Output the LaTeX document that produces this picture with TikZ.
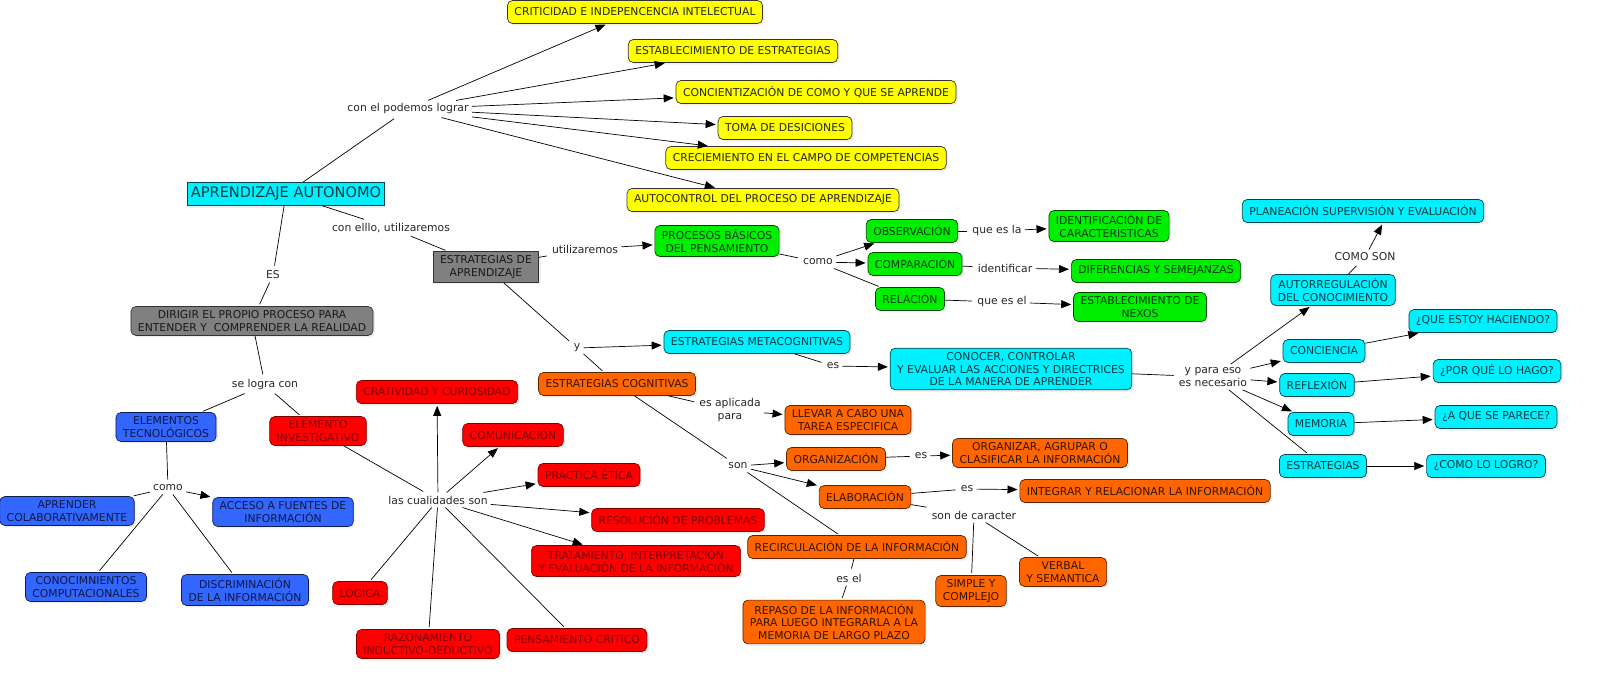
\documentclass[tikz,border=0pt]{standalone}
\usepackage{fontspec}
\setmainfont{DejaVu Sans}
\usetikzlibrary{arrows.meta,shadows}

\definecolor{amarillo}{RGB}{255,255,0}
\definecolor{cian}{RGB}{0,240,255}
\definecolor{verde}{RGB}{0,238,0}
\definecolor{naranja}{RGB}{255,102,0}
\definecolor{rojo}{RGB}{255,0,0}
\definecolor{azul}{RGB}{51,102,255}
\definecolor{gris}{RGB}{128,128,128}

\begin{document}
\begin{tikzpicture}[x=1pt,y=-1pt,line width=0.7pt,
    >={Triangle[length=10pt,width=8pt]},shorten >=2pt,
    every node/.style={font=\fontsize{10.8}{12.8}\selectfont,align=center,text=black!85},
    caja/.style={rounded corners=5pt,inner xsep=7pt,inner ysep=4pt,minimum height=23pt,
        drop shadow={shadow xshift=2pt,shadow yshift=-2pt,fill=black!12}},
    amarillo/.style={caja,draw=black!80,fill=amarillo,text=black!85},
    cian/.style={caja,draw=cian!30!black,fill=cian,text=cian!25!black},
    verde/.style={caja,draw=verde!30!black,fill=verde,text=verde!25!black},
    naranja/.style={caja,draw=naranja!35!black,fill=naranja,text=naranja!20!black},
    rojo/.style={caja,draw=rojo!50!black,fill=rojo,text=rojo!50!black},
    azul/.style={caja,draw=azul!30!black,fill=azul,text=azul!25!black},
    gris/.style={caja,draw=black!80,fill=gris,text=black!90},
    enlace/.style={inner sep=3pt}]
        \useasboundingbox (0,0) rectangle (1600,675);

        % concepto principal
        \node[cian,sharp corners,inner sep=3pt,font=\fontsize{14.6}{16}\selectfont] (auto) at (286,194) {APRENDIZAJE AUTONOMO};
        \node[enlace] (lograr) at (408,109) {con el podemos lograr};
        \node[amarillo] (crit) at (635,12) {CRITICIDAD E INDEPENCENCIA INTELECTUAL};
        \node[amarillo] (estab) at (733,51) {ESTABLECIMIENTO DE ESTRATEGIAS};
        \node[amarillo] (conc) at (816,92) {CONCIENTIZACIÓN DE COMO Y QUE SE APRENDE};
        \node[amarillo] (toma) at (785,128) {TOMA DE DESICIONES};
        \node[amarillo] (crec) at (806,158) {CRECIEMIENTO EN EL CAMPO DE COMPETENCIAS};
        \node[amarillo] (autoc) at (763,200) {AUTOCONTROL DEL PROCESO DE APRENDIZAJE};

        % estrategias de aprendizaje
        \node[enlace] (ello) at (391,228) {con elllo, utilizaremos};
        \node[gris,sharp corners] (estap) at (486,267) {ESTRATEGIAS DE\\APRENDIZAJE};
        \node[enlace] (utiliz) at (585,249) {utilizaremos};
        \node[verde] (proc) at (717,241) {PROCESOS BÁSICOS\\DEL PENSAMIENTO};
        \node[enlace] (como1) at (818,262) {como};
        \node[verde] (obs) at (912,231) {OBSERVACIÓN};
        \node[verde] (comp) at (915,264) {COMPARACIÓN};
        \node[verde] (rel) at (910,299) {RELACIÓN};
        \node[enlace] (quela) at (997,231) {que es la};
        \node[verde] (ident) at (1109,226) {IDENTIFICACIÓN DE\\CARACTERISTICAS};
        \node[enlace] (identif) at (1005,268) {identificar};
        \node[verde] (dif) at (1156,271) {DIFERENCIAS Y SEMEJANZAS};
        \node[enlace] (queel) at (1002,302) {que es el};
        \node[verde] (nexos) at (1140,307) {ESTABLECIMIENTO DE\\NEXOS};

        % metacognitivas
        \node[enlace] (y) at (577,348) {y};
        \node[cian] (meta) at (757,342) {ESTRATEGIAS METACOGNITIVAS};
        \node[enlace] (es2) at (833,366) {es};
        \node[cian] (conocer) at (1011,369) {CONOCER, CONTROLAR\\Y EVALUAR LAS ACCIONES Y DIRECTRICES\\DE LA MANERA DE APRENDER};
        \node[enlace] (paraeso) at (1213,377) {y para eso\\es necesario};
        \node[cian] (plan) at (1363,211) {PLANEACIÓN SUPERVISIÓN Y EVALUACIÓN};
        \node[enlace] (comoson) at (1365,257) {COMO SON};
        \node[cian] (autorreg) at (1333,290) {AUTORREGULACIÓN\\DEL CONOCIMIENTO};
        \node[cian] (concien) at (1324,351) {CONCIENCIA};
        \node[cian] (quehac) at (1483,321) {¿QUE ESTOY HACIENDO?};
        \node[cian] (reflex) at (1317,385) {REFLEXIÓN};
        \node[cian] (porque) at (1497,371) {¿POR QUÉ LO HAGO?};
        \node[cian] (memoria) at (1321,424) {MEMORIA};
        \node[cian] (parece) at (1496,417) {¿A QUE SE PARECE?};
        \node[cian] (estrat) at (1323,466) {ESTRATEGIAS};
        \node[cian] (logro) at (1486,466) {¿COMO LO LOGRO?};

        % cognitivas
        \node[naranja] (cogn) at (617,384) {ESTRATEGIAS COGNITIVAS};
        \node[enlace] (aplic) at (730,410) {es aplicada\\para};
        \node[naranja] (llevar) at (848,420) {LLEVAR A CABO UNA\\TAREA ESPECIFICA};
        \node[enlace] (son) at (738,466) {son};
        \node[naranja] (organiz) at (836,459) {ORGANIZACIÓN};
        \node[enlace] (es3) at (921,456) {es};
        \node[naranja] (agrupar) at (1040,453) {ORGANIZAR, AGRUPAR O\\CLASIFICAR LA INFORMACIÓN};
        \node[naranja] (elab) at (865,497) {ELABORACIÓN};
        \node[enlace] (es4) at (967,489) {es};
        \node[naranja] (integrar) at (1145,491) {INTEGRAR Y RELACIONAR LA INFORMACIÓN};
        \node[enlace] (caracter) at (974,515) {son de caracter};
        \node[naranja] (simple) at (971,591) {SIMPLE Y\\COMPLEJO};
        \node[naranja] (verbal) at (1063,572) {VERBAL\\Y SEMANTICA};
        \node[naranja] (recirc) at (857,547) {RECIRCULACIÓN DE LA INFORMACIÓN};
        \node[enlace] (esel) at (849,578) {es el};
        \node[naranja] (repaso) at (834,622) {REPASO DE LA INFORMACIÓN\\PARA LUEGO INTEGRARLA A LA\\MEMORIA DE LARGO PLAZO};

        % dirigir el propio proceso
        \node[enlace] (es1) at (273,275) {ES};
        \node[gris] (dirigir) at (252,321) {DIRIGIR EL PROPIO PROCESO PARA\\ENTENDER Y\ \ COMPRENDER LA REALIDAD};
        \node[enlace] (selogra) at (265,385) {se logra con};
        \node[azul] (tec) at (166,427) {ELEMENTOS\\TECNOLÓGICOS};
        \node[enlace] (como2) at (168,488) {como};
        \node[azul] (colab) at (67,511) {APRENDER\\COLABORATIVAMENTE};
        \node[azul] (acceso) at (283,512) {ACCESO A FUENTES DE\\INFORMACIÓN};
        \node[azul] (computa) at (86,587) {CONOCIMNIENTOS\\COMPUTACIONALES};
        \node[azul] (discrim) at (245,590) {DISCRIMINACIÓN\\DE LA INFORMACIÓN};
        \node[rojo] (inv) at (318,431) {ELEMENTO\\INVESTIGATIVO};
        \node[enlace] (cualid) at (438,500) {las cualidades son};
        \node[rojo] (crat) at (437,392) {CRATIVIDAD Y CURIOSIDAD};
        \node[rojo] (comun) at (513,435) {COMUNICACIÓN};
        \node[rojo] (etica) at (589,475) {PRACTICA ÉTICA};
        \node[rojo] (resol) at (678,520) {RESOLUCIÓN DE PROBLEMAS};
        \node[rojo] (trat) at (636,561) {TRATAMIENTO, INTERPRETACIÓN\\Y EVALUACIÓN DE LA INFORMACIÓN};
        \node[rojo] (logica) at (360,593) {LÓGICA};
        \node[rojo] (razon) at (428,644) {RAZONAMIENTO\\INDUCTIVO-DEDUCTIVO};
        \node[rojo] (pensam) at (577,640) {PENSAMIENTO CRITICO};

        \path [-] (auto) edge (lograr);
        \path [->] (lograr) edge (crit);
        \path [->] (lograr) edge (estab);
        \path [->] (lograr) edge (conc);
        \path [->] (lograr) edge (toma);
        \path [->] (lograr) edge (crec);
        \path [->] (lograr) edge (autoc);
        \path [-] (auto) edge (ello);
        \path [-] (ello) edge (estap);
        \path [-] (estap) edge (utiliz);
        \path [->] (utiliz) edge (proc);
        \path [-] (proc) edge (como1);
        \path [->] (como1) edge (obs);
        \path [->] (como1) edge (comp);
        \path [-] (como1) edge (rel);
        \path [-] (obs) edge (quela);
        \path [->] (quela) edge (ident);
        \path [-] (comp) edge (identif);
        \path [->] (identif) edge (dif);
        \path [-] (rel) edge (queel);
        \path [->] (queel) edge (nexos);
        \path [-] (estap) edge (y);
        \path [->] (y) edge (meta);
        \path [-] (y) edge (cogn);
        \path [-] (meta) edge (es2);
        \path [->] (es2) edge (conocer);
        \path [-] (conocer) edge (paraeso);
        \path [->] (paraeso) edge (autorreg);
        \path [->] (paraeso) edge (concien);
        \path [->] (paraeso) edge (reflex);
        \path [->] (paraeso) edge (memoria);
        \path [-] (paraeso) edge (estrat);
        \path [-] (autorreg) edge (comoson);
        \path [->] (comoson) edge ([xshift=20pt]plan.south);
        \path [->] (concien) edge (quehac);
        \path [->] (reflex) edge (porque);
        \path [->] (memoria) edge (parece);
        \path [->] (estrat) edge (logro);
        \path [-] (cogn) edge (aplic);
        \path [->] (aplic) edge (llevar);
        \path [-] (cogn) edge (son);
        \path [->] (son) edge (organiz);
        \path [->] (son) edge (elab);
        \path [-] (son) edge (recirc);
        \path [-] (organiz) edge (es3);
        \path [->] (es3) edge (agrupar);
        \path [-] (elab) edge (es4);
        \path [->] (es4) edge (integrar);
        \path [-] (elab) edge (caracter);
        \path [-] (caracter) edge (simple);
        \path [-] (caracter) edge (verbal);
        \path [-] (recirc) edge (esel);
        \path [-] (esel) edge (repaso);
        \path [-] (auto) edge (es1);
        \path [-] (es1) edge (dirigir);
        \path [-] (dirigir) edge (selogra);
        \path [-] (selogra) edge (tec);
        \path [-] (selogra) edge (inv);
        \path [-] (tec) edge (como2);
        \path [-] (como2) edge (colab);
        \path [->] (como2) edge (acceso);
        \path [-] (como2) edge (computa);
        \path [-] (como2) edge (discrim);
        \path [-] (inv) edge (cualid);
        \path [->] (cualid) edge (crat);
        \path [->] (cualid) edge (comun);
        \path [->] (cualid) edge (etica);
        \path [->] (cualid) edge (resol);
        \path [->] (cualid) edge (trat);
        \path [-] (cualid) edge (logica);
        \path [-] (cualid) edge (razon);
        \path [-] (cualid) edge (pensam);
    \end{tikzpicture}
\end{document}
